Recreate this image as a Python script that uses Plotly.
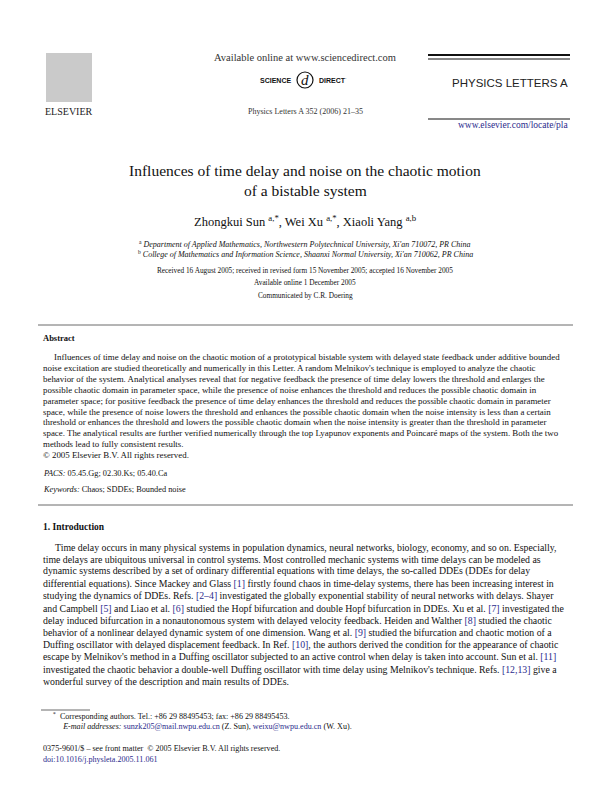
import plotly.graph_objects as go

W, H = 595, 794
SERIF = "Liberation Serif"
LINK = "#2b2b8c"

title_lines = ["Influences of time delay and noise on the chaotic motion", "of a bistable system"]
authors = "Zhongkui Sun <sup>a,*</sup>, Wei Xu <sup>a,*</sup>, Xiaoli Yang <sup>a,b</sup>"
affiliations = [
    "<sup>a</sup> <i>Department of Applied Mathematics, Northwestern Polytechnical University, Xi'an 710072, PR China</i>",
    "<sup>b</sup> <i>College of Mathematics and Information Science, Shaanxi Normal University, Xi'an 710062, PR China</i>",
]
dates = [
    "Received 16 August 2005; received in revised form 15 November 2005; accepted 16 November 2005",
    "Available online 1 December 2005",
    "Communicated by C.R. Doering",
]
abstract_lines = [
    "     Influences of time delay and noise on the chaotic motion of a prototypical bistable system with delayed state feedback under additive bounded",
    "noise excitation are studied theoretically and numerically in this Letter. A random Melnikov's technique is employed to analyze the chaotic",
    "behavior of the system. Analytical analyses reveal that for negative feedback the presence of time delay lowers the threshold and enlarges the",
    "possible chaotic domain in parameter space, while the presence of noise enhances the threshold and reduces the possible chaotic domain in",
    "parameter space; for positive feedback the presence of time delay enhances the threshold and reduces the possible chaotic domain in parameter",
    "space, while the presence of noise lowers the threshold and enhances the possible chaotic domain when the noise intensity is less than a certain",
    "threshold or enhances the threshold and lowers the possible chaotic domain when the noise intensity is greater than the threshold in parameter",
    "space. The analytical results are further verified numerically through the top Lyapunov exponents and Poincaré maps of the system. Both the two",
    "methods lead to fully consistent results.",
    "© 2005 Elsevier B.V. All rights reserved.",
]
def L(s):
    return "<span style='color:%s'>%s</span>" % (LINK, s)
intro_lines = [
    "     Time delay occurs in many physical systems in population dynamics, neural networks, biology, economy, and so on. Especially,",
    "time delays are ubiquitous universal in control systems. Most controlled mechanic systems with time delays can be modeled as",
    "dynamic systems described by a set of ordinary differential equations with time delays, the so-called DDEs (DDEs for delay",
    "differential equations). Since Mackey and Glass " + L("[1]") + " firstly found chaos in time-delay systems, there has been increasing interest in",
    "studying the dynamics of DDEs. Refs. " + L("[2–4]") + " investigated the globally exponential stability of neural networks with delays. Shayer",
    "and Campbell " + L("[5]") + " and Liao et al. " + L("[6]") + " studied the Hopf bifurcation and double Hopf bifurcation in DDEs. Xu et al. " + L("[7]") + " investigated the",
    "delay induced bifurcation in a nonautonomous system with delayed velocity feedback. Heiden and Walther " + L("[8]") + " studied the chaotic",
    "behavior of a nonlinear delayed dynamic system of one dimension. Wang et al. " + L("[9]") + " studied the bifurcation and chaotic motion of a",
    "Duffing oscillator with delayed displacement feedback. In Ref. " + L("[10]") + ", the authors derived the condition for the appearance of chaotic",
    "escape by Melnikov's method in a Duffing oscillator subjected to an active control when delay is taken into account. Sun et al. " + L("[11]"),
    "investigated the chaotic behavior a double-well Duffing oscillator with time delay using Melnikov's technique. Refs. " + L("[12,13]") + " give a",
    "wonderful survey of the description and main results of DDEs.",
]
footnotes = [
    "<sup>*</sup>  Corresponding authors. Tel.: +86 29 88495453; fax: +86 29 88495453.",
    "     <i>E-mail addresses:</i> " + L("sunzk205@mail.nwpu.edu.cn") + " (Z. Sun), " + L("weixu@nwpu.edu.cn") + " (W. Xu).",
]
bottom = ["0375-9601/$ – see front matter  © 2005 Elsevier B.V. All rights reserved.", L("doi:10.1016/j.physleta.2005.11.061")]

fig = go.Figure()
ann = []
def text(x, y, s, size=8, anchor="left", color="#111", family=SERIF):
    ann.append(dict(x=x, y=y, text=s, showarrow=False, xanchor=anchor, yanchor="middle",
                    font=dict(family=family, size=size, color=color)))

# header
text(297, 49, "Available online at www.sciencedirect.com", 10.5, "center", "#333")
text(285, 72, "<b>SCIENCE</b>", 7, "right", "#111", "Liberation Sans")
text(297, 72, "<i>d</i>", 15, "center", "#111", SERIF)
text(309, 72, "<b>DIRECT</b><sup>·</sup>", 7, "left", "#111", "Liberation Sans")
text(297, 103, "Physics Letters A 352 (2006) 21–35", 8, "center", "#333")
text(61, 103, "ELSEVIER", 10, "center", "#222")
text(562, 75, "PHYSICS LETTERS A", 11.5, "right", "#222", "Liberation Sans")
text(562, 117, "www.elsevier.com/locate/pla", 9.5, "right", LINK)

# title block
for i, s in enumerate(title_lines):
    text(297, 162 + i * 20, s, 15.5, "center")
text(297, 213, authors, 12.5, "center")
for i, s in enumerate(affiliations):
    text(297, 236 + i * 9.5, s, 8, "center")
for i, s in enumerate(dates):
    text(297, 262 + i * 12.5, s, 7.3, "center")

# abstract
text(33, 330, "<b>Abstract</b>", 8.5)
for i, s in enumerate(abstract_lines):
    text(33, 349 + i * 10.9, s, 8.9)
text(33, 465, "<i>PACS:</i> 05.45.Gg; 02.30.Ks; 05.40.Ca", 8.3)
text(33, 481, "<i>Keywords:</i> Chaos; SDDEs; Bounded noise", 8.3)

# intro
text(33, 519, "<b>1. Introduction</b>", 9.5)
for i, s in enumerate(intro_lines):
    text(33, 539 + i * 12.2, s, 9.8)
for i, s in enumerate(footnotes):
    text(43, 708 + i * 10, s, 8.1)
for i, s in enumerate(bottom):
    text(33, 740 + i * 11, s, 8.1)

shapes = [
    dict(type="line", x0=420, x1=562, y0=47, y1=47, line=dict(color="#111", width=2)),
    dict(type="line", x0=420, x1=562, y0=51, y1=51, line=dict(color="#111", width=1)),
    dict(type="line", x0=420, x1=562, y0=111, y1=111, line=dict(color="#111", width=1)),
    dict(type="rect", x0=38, x1=84, y0=45, y1=94, fillcolor="#bdbdbd", line=dict(width=0), opacity=0.8),
    dict(type="circle", x0=289, x1=305, y0=64, y1=80, line=dict(color="#111", width=1.2)),
    dict(type="line", x0=30, x1=565, y0=317, y1=317, line=dict(color="#444", width=0.8)),
    dict(type="line", x0=30, x1=565, y0=497, y1=497, line=dict(color="#444", width=0.8)),
    dict(type="line", x0=33, x1=82, y0=702, y1=702, line=dict(color="#444", width=0.8)),
]

fig.update_layout(width=W, height=H, margin=dict(l=0, r=0, t=0, b=0),
                  paper_bgcolor="white", plot_bgcolor="white",
                  xaxis=dict(range=[0, W], visible=False, fixedrange=True),
                  yaxis=dict(range=[H, 0], visible=False, fixedrange=True),
                  annotations=ann, shapes=shapes, showlegend=False)
fig.write_html("out.html", config={"displayModeBar": False})
